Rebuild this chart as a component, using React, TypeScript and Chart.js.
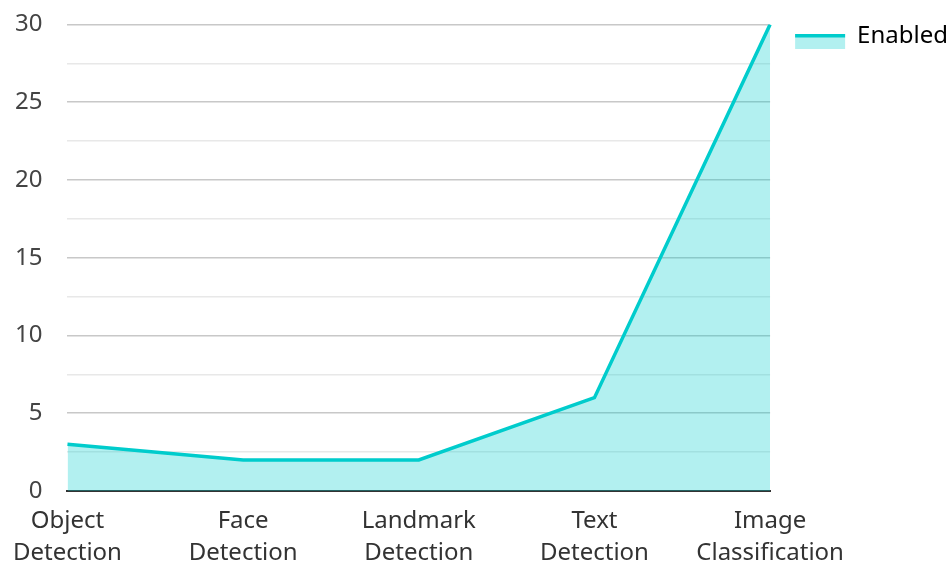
import React, { useEffect, useRef } from "react";
import { Chart, registerables } from "chart.js";

Chart.register(...registerables);

const categories: string[][] = [
  ["Object", "Detection"],
  ["Face", "Detection"],
  ["Landmark", "Detection"],
  ["Text", "Detection"],
  ["Image", "Classification"],
];
const enabledValues: number[] = [3, 2, 2, 6, 30];
const seriesName = "Enabled";

const LINE = "#00cccc";
const FILL = "rgba(0,204,204,0.3)";
const FONT = "'Noto Sans', 'Open Sans', sans-serif";

const legendLinePlugin = {
  id: "legendLine",
  afterDraw(chart: any) {
    const legend = chart.legend;
    if (!legend || !legend.legendHitBoxes) return;
    const ctx = chart.ctx;
    legend.legendHitBoxes.forEach((hb: any) => {
      const bw = legend.options.labels.boxWidth;
      const mid = hb.top + hb.height / 2;
      const top = mid - 2;
      ctx.save();
      ctx.fillStyle = FILL;
      ctx.fillRect(hb.left, top, bw, 15);
      ctx.strokeStyle = LINE;
      ctx.lineWidth = 3.5;
      ctx.beginPath();
      ctx.moveTo(hb.left, top + 1.75);
      ctx.lineTo(hb.left + bw, top + 1.75);
      ctx.stroke();
      ctx.restore();
    });
  },
};

export default function App() {
  const ref = useRef<HTMLCanvasElement>(null);
  useEffect(() => {
    if (!ref.current) return;
    const chart = new Chart(ref.current, {
      type: "line",
      data: {
        labels: categories,
        datasets: [
          {
            label: seriesName,
            data: enabledValues,
            borderColor: LINE,
            backgroundColor: FILL,
            borderWidth: 3.5,
            fill: "origin",
            pointRadius: 0,
            tension: 0,
          },
        ],
      },
      options: {
        animation: false,
        responsive: true,
        maintainAspectRatio: false,
        layout: { padding: { top: -1, right: -7, left: 5, bottom: -13 } },
        plugins: {
          tooltip: { enabled: false },
          legend: {
            position: "right",
            align: "start",
            labels: {
              boxWidth: 50,
              boxHeight: 15,
              font: { family: FONT, size: 24 },
              color: "#333",
              padding: 25,
              generateLabels: (c: any) =>
                c.data.datasets.map((d: any, i: number) => ({
                  text: d.label,
                  fillStyle: "rgba(0,0,0,0)",
                  strokeStyle: "rgba(0,0,0,0)",
                  lineWidth: 0,
                  hidden: false,
                  datasetIndex: i,
                })),
            },
          },
        },
        scales: {
          x: {
            offset: false,
            grid: { display: false },
            border: { display: true, color: "#333", width: 2 },
            ticks: {
              font: { family: FONT, size: 24, lineHeight: 1.333 },
              color: "#333",
              maxRotation: 0,
              autoSkip: false,
              padding: 6,
            },
          },
          y: {
            min: 0,
            max: 30,
            border: { display: false },
            grid: {
              color: (ctx: any) =>
                ctx.tick && ctx.tick.value % 5 === 0 ? "#c8c8c8" : "#e8e8e8",
              lineWidth: 1.5,
              drawTicks: true,
              tickLength: 15,
              tickColor: "rgba(0,0,0,0)",
            },
            ticks: {
              stepSize: 2.5,
              padding: 10,
              font: { family: FONT, size: 24 },
              color: "#444",
              callback: (v: any) => (Number(v) % 5 === 0 ? String(v) : ""),
            },
          },
        },
      },
      plugins: [legendLinePlugin],
    });
    return () => chart.destroy();
  }, []);
  return (
    <div style={{ position: "absolute", left: 0, top: 0, width: 951, height: 562 }}>
      <canvas ref={ref} />
    </div>
  );
}
